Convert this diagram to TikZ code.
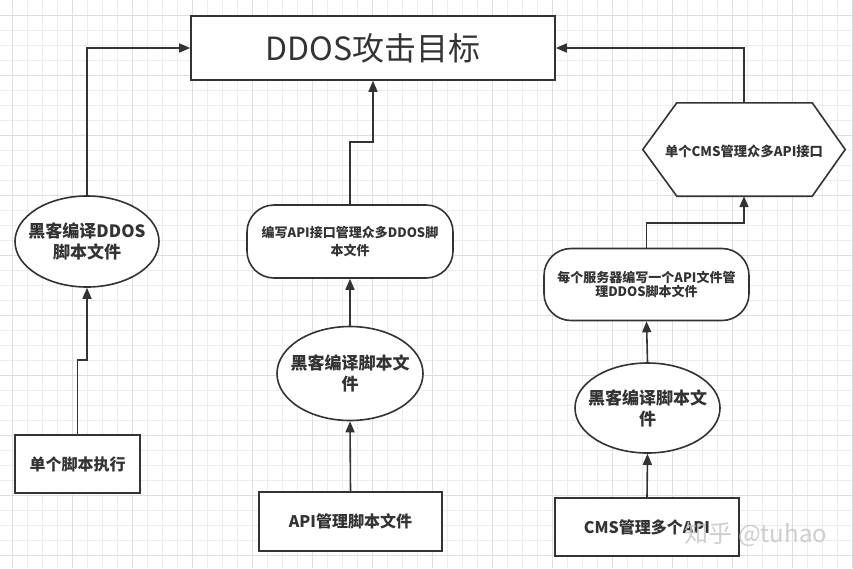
\documentclass[tikz,border=0pt]{standalone}
\usepackage{fontspec}
\setmainfont{Noto Sans CJK SC}
\usetikzlibrary{arrows.meta,shapes.geometric}
\definecolor{ink}{HTML}{333333}
\definecolor{gridminor}{HTML}{EDEDED}
\definecolor{gridmajor}{HTML}{DEDEDE}
\tikzset{
  line/.style={draw=ink,line width=1.6pt},
  arr/.style={line,-{Triangle[length=11pt,width=9pt]}},
  boxnode/.style={line,fill=white,rectangle,inner sep=0pt,align=center,text=ink,font=\bfseries\fontsize{16}{20}\selectfont},
  ellnode/.style={line,fill=white,ellipse,inner sep=-16pt,align=center,text=ink,font=\bfseries\fontsize{17}{21}\selectfont},
  roundnode/.style={line,fill=white,rectangle,rounded corners=27pt,inner sep=0pt,align=center,text=ink,font=\bfseries\fontsize{12.6}{15}\selectfont},
}
\begin{document}
\begin{tikzpicture}[x=1pt,y=-1pt]
\useasboundingbox (0,0) rectangle (853,568);
\fill[white] (0,0) rectangle (853,568);
\foreach \x in {12,27,...,852} \draw[gridminor,line width=0.8pt] (\x,0) -- (\x,568);
\foreach \y in {15,30,...,567} \draw[gridminor,line width=0.8pt] (0,\y) -- (853,\y);
\foreach \x in {12,72,...,852} \draw[gridmajor,line width=0.8pt] (\x,0) -- (\x,568);
\foreach \y in {15,75,...,567} \draw[gridmajor,line width=0.8pt] (0,\y) -- (853,\y);

% top target
\node[line,fill=white,rectangle,inner sep=0pt,minimum width=364pt,minimum height=64pt,text=ink,font=\fontsize{32}{36}\selectfont] (target) at (373,48) {DDOS攻击目标};

% left column
\node[ellnode,minimum width=144pt,minimum height=91pt] (e1) at (87,241.5) {黑客编译DDOS\\脚本文件};
\node[boxnode,minimum width=125pt,minimum height=58pt] (b1) at (77.5,464) {单个脚本执行};

% middle column
\node[roundnode,minimum width=206pt,minimum height=73pt,font=\bfseries\fontsize{13}{18}\selectfont] (r2) at (350,241.5) {编写API接口管理众多DDOS脚\\本文件};
\node[ellnode,minimum width=146pt,minimum height=94pt] (e2) at (350,373.5) {黑客编译脚本文\\件};
\node[boxnode,minimum width=183pt,minimum height=59pt] (b2) at (350.5,521.5) {API管理脚本文件};

% right column
\node[rectangle,inner sep=0pt,minimum width=202pt,minimum height=93pt] (hex) at (744,149.5) {};
\draw[line,fill=white] (hex.west) -- ([xshift=34pt]hex.north west) -- ([xshift=-33pt]hex.north east) -- (hex.east) -- ([xshift=-33pt]hex.south east) -- ([xshift=34pt]hex.south west) -- cycle;
\node[text=ink,font=\bfseries\fontsize{13.3}{16}\selectfont] (hexlabel) at (744,151) {单个CMS管理众多API接口};
\node[roundnode,minimum width=205pt,minimum height=72pt,font=\bfseries\fontsize{13}{14.5}\selectfont] (r3) at (646.5,284.5) {每个服务器编写一个API文件管\\理DDOS脚本文件};
\node[ellnode,minimum width=145pt,minimum height=90pt] (e3) at (647.5,408) {黑客编译脚本文\\件};
\node[boxnode,minimum width=184pt,minimum height=58pt] (b3) at (647,527) {CMS管理多个API};

% connectors
\draw[arr] (e1.north) |- (target.west);
\draw[arr] (b1.north) -- ++(0,-74) -| (e1.south);
\draw[arr] (b2.north) -- (e2.south);
\draw[arr] (e2.north) -- (r2.south);
\draw[arr] (r2.north) -- ++(0,-62) -| (target.south);
\draw[arr] (hex.north) |- (target.east);
\draw[arr] (r3.north) -- ++(0,-25) -| (hex.south);
\draw[arr] (e3.north) -- (r3.south);
\draw[arr] (b3.north) -- (e3.south);

% watermark
\node[text=gray!45,opacity=0.85,font=\fontsize{24}{28}\selectfont] (wm) at (756,534) {知乎 @tuhao};
\end{tikzpicture}
\end{document}
